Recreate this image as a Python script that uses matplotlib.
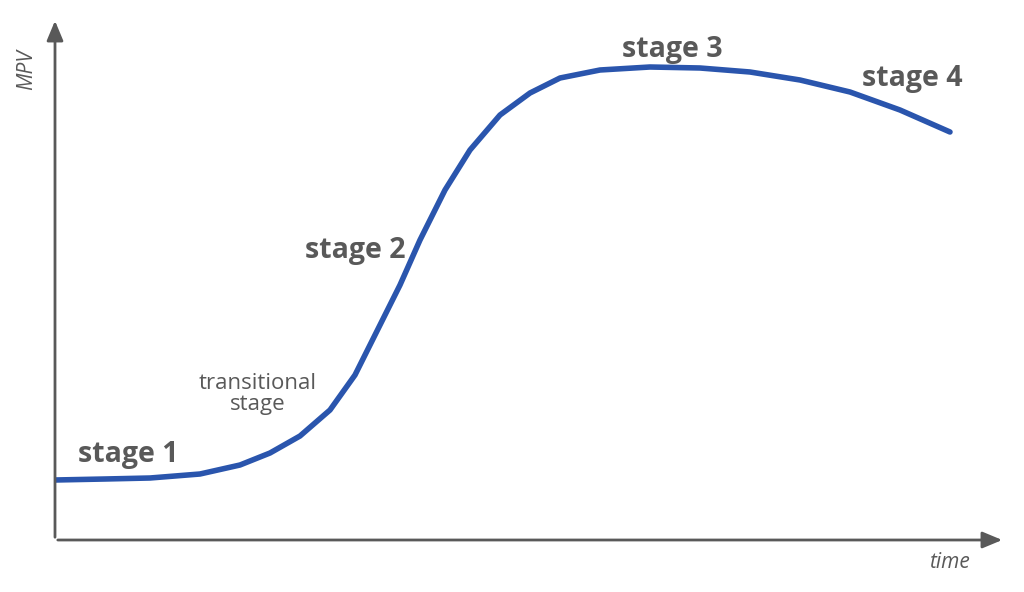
import matplotlib.pyplot as plt

# curve (time, MPV) in arbitrary units
time = [0, 50, 95, 145, 185, 215, 245, 275, 300, 325, 345, 365, 390, 415, 445, 475,
        505, 545, 595, 645, 695, 745, 795, 845, 895]
mpv = [60, 61, 62, 66, 75, 87, 104, 130, 165, 215, 255, 300, 350, 390, 425, 447,
       462, 470, 473, 472, 468, 460, 448, 430, 408]

labels = ["stage 1", "stage 2", "stage 3", "stage 4"]
label_pos = [(23, 78), (250, 282), (567, 483), (807, 454)]

fig = plt.figure(figsize=(10.24, 5.92), dpi=100)
ax = fig.add_axes([55/1024, 52/592, 945/1024, 520/592])
ax.set_xlim(0, 945)
ax.set_ylim(0, 520)
ax.axis("off")

gray = "#595959"
ax.annotate("", xy=(950, 0), xytext=(0, 0), annotation_clip=False,
            arrowprops=dict(arrowstyle="-|>,head_length=1.2,head_width=0.5", color=gray, lw=2))
ax.annotate("", xy=(0, 522), xytext=(0, 0), annotation_clip=False,
            arrowprops=dict(arrowstyle="-|>,head_length=1.2,head_width=0.5", color=gray, lw=2))

ax.plot(time, mpv, color="#2a55ad", lw=4, solid_capstyle="round", solid_joinstyle="round")

for lab, (x, y) in zip(labels, label_pos):
    ax.text(x, y, lab, fontsize=20.5, fontweight="bold", color=gray, family="Open Sans")
ax.text(203, 130, "transitional\nstage", fontsize=16, color=gray, ha="center",
        family="Open Sans", linespacing=1.0)

ax.text(915, -22, "time", fontsize=15, style="italic", color=gray, ha="right", va="center",
        family="Open Sans")
ax.text(-28, 455, "MPV", fontsize=15, style="italic", color=gray, rotation=90, ha="center",
        family="Open Sans")

fig.savefig("out.png", dpi=100)
